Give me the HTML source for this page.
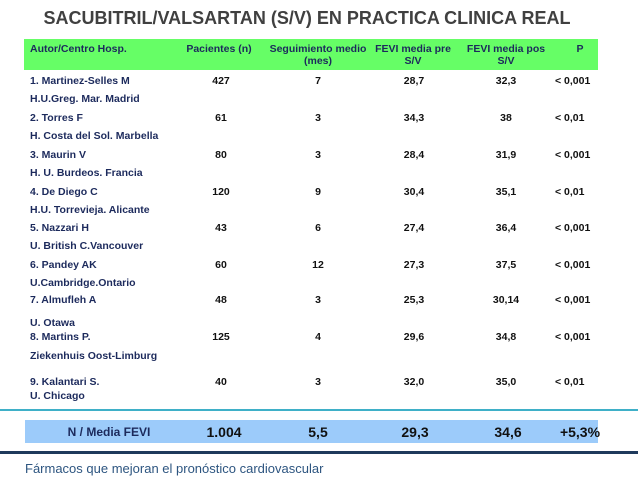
<!DOCTYPE html>
<html><head><meta charset="utf-8"><style>
body{margin:0;width:638px;height:478px;background:#fff;position:relative;overflow:hidden;font-family:"Liberation Sans",sans-serif;}
.t{position:absolute;white-space:nowrap;font-weight:bold;font-size:10.5px;line-height:12px;}
.n{color:#1c2a5c;left:30px;}
.c{transform:translateX(-50%);color:#111;}
.h{color:#1c2a5c;text-align:center;}
</style></head><body>
<div class="t" style="left:-12px;width:638px;text-align:center;top:8px;font-size:18px;line-height:20px;color:#404040;">SACUBITRIL/VALSARTAN (S/V) EN PRACTICA CLINICA REAL</div>
<div style="position:absolute;left:24px;top:39px;width:574px;height:31px;background:#66fe66;"></div>
<div class="t" style="left:30px;top:43px;color:#1c2a5c;">Autor/Centro Hosp.</div>
<div class="t c" style="left:219px;top:43px;color:#1c2a5c;">Pacientes (n)</div>
<div class="t c h" style="left:318px;top:43px;">Seguimiento medio<br>(mes)</div>
<div class="t c h" style="left:413px;top:43px;">FEVI media pre<br>S/V</div>
<div class="t c h" style="left:506px;top:43px;">FEVI media pos<br>S/V</div>
<div class="t c" style="left:580px;top:43px;color:#1c2a5c;">P</div>
<div id="rows"></div>
<div style="position:absolute;left:0;top:409px;width:638px;height:2px;background:#3fb0c8;"></div>
<div style="position:absolute;left:25px;top:420px;width:573px;height:23px;background:#9ccbfa;"></div>
<div class="t c" style="left:109px;top:426px;font-size:12px;color:#1c2a5c;">N / Media FEVI</div>
<div class="t c" style="left:224px;top:424px;font-size:14px;line-height:16px;">1.004</div>
<div class="t c" style="left:318px;top:424px;font-size:14px;line-height:16px;">5,5</div>
<div class="t c" style="left:415px;top:424px;font-size:14px;line-height:16px;">29,3</div>
<div class="t c" style="left:508px;top:424px;font-size:14px;line-height:16px;">34,6</div>
<div class="t c" style="left:580px;top:424px;font-size:14px;line-height:16px;">+5,3%</div>
<div style="position:absolute;left:0;top:451px;width:638px;height:3px;background:#1f3a5c;"></div>
<div class="t" style="left:25px;top:461px;font-size:13px;line-height:15px;font-weight:normal;color:#2d5580;">Fármacos que mejoran el pronóstico cardiovascular</div>
<script>
const names=["1. Martinez-Selles M","2. Torres F","3. Maurin V","4. De Diego C","5. Nazzari H","6. Pandey AK","7. Almufleh A","8. Martins P.","9. Kalantari S."];
const centers=["H.U.Greg. Mar. Madrid","H. Costa del Sol. Marbella","H. U. Burdeos. Francia","H.U. Torrevieja. Alicante","U. British C.Vancouver","U.Cambridge.Ontario","U. Otawa","Ziekenhuis Oost-Limburg","U. Chicago"];
const pacientes=["427","61","80","120","43","60","48","125","40"];
const seguimiento=["7","3","3","9","6","12","3","4","3"];
const feviPre=["28,7","34,3","28,4","30,4","27,4","27,3","25,3","29,6","32,0"];
const feviPos=["32,3","38","31,9","35,1","36,4","37,5","30,14","34,8","35,0"];
const pvals=["< 0,001","< 0,01","< 0,001","< 0,01","< 0,001","< 0,001","< 0,001","< 0,001","< 0,01"];
const rowY=[75,112,149,186,222,259,294,331,376];
const centerY=[93,130,167,204,240,277,317,350,390];
const root=document.getElementById('rows');
function mk(txt,cls,left,top){const d=document.createElement('div');d.className='t '+cls;d.textContent=txt;d.style.left=left+'px';d.style.top=top+'px';root.appendChild(d);return d;}
for(let i=0;i<names.length;i++){
 let e=mk(names[i],'n',30,rowY[i]);
 
 
 e=mk(centers[i],'n',30,centerY[i]);
 
 
 e=mk(pacientes[i],'c',221,rowY[i]);
 
 
 e=mk(seguimiento[i],'c',318,rowY[i]);
 
 
 e=mk(feviPre[i],'c',414,rowY[i]);
 
 
 e=mk(feviPos[i],'c',506,rowY[i]);
 
 
 e=mk(pvals[i],'n',555,rowY[i]);
 e.style.color='#111';
 
 
}
</script>
</body></html>
